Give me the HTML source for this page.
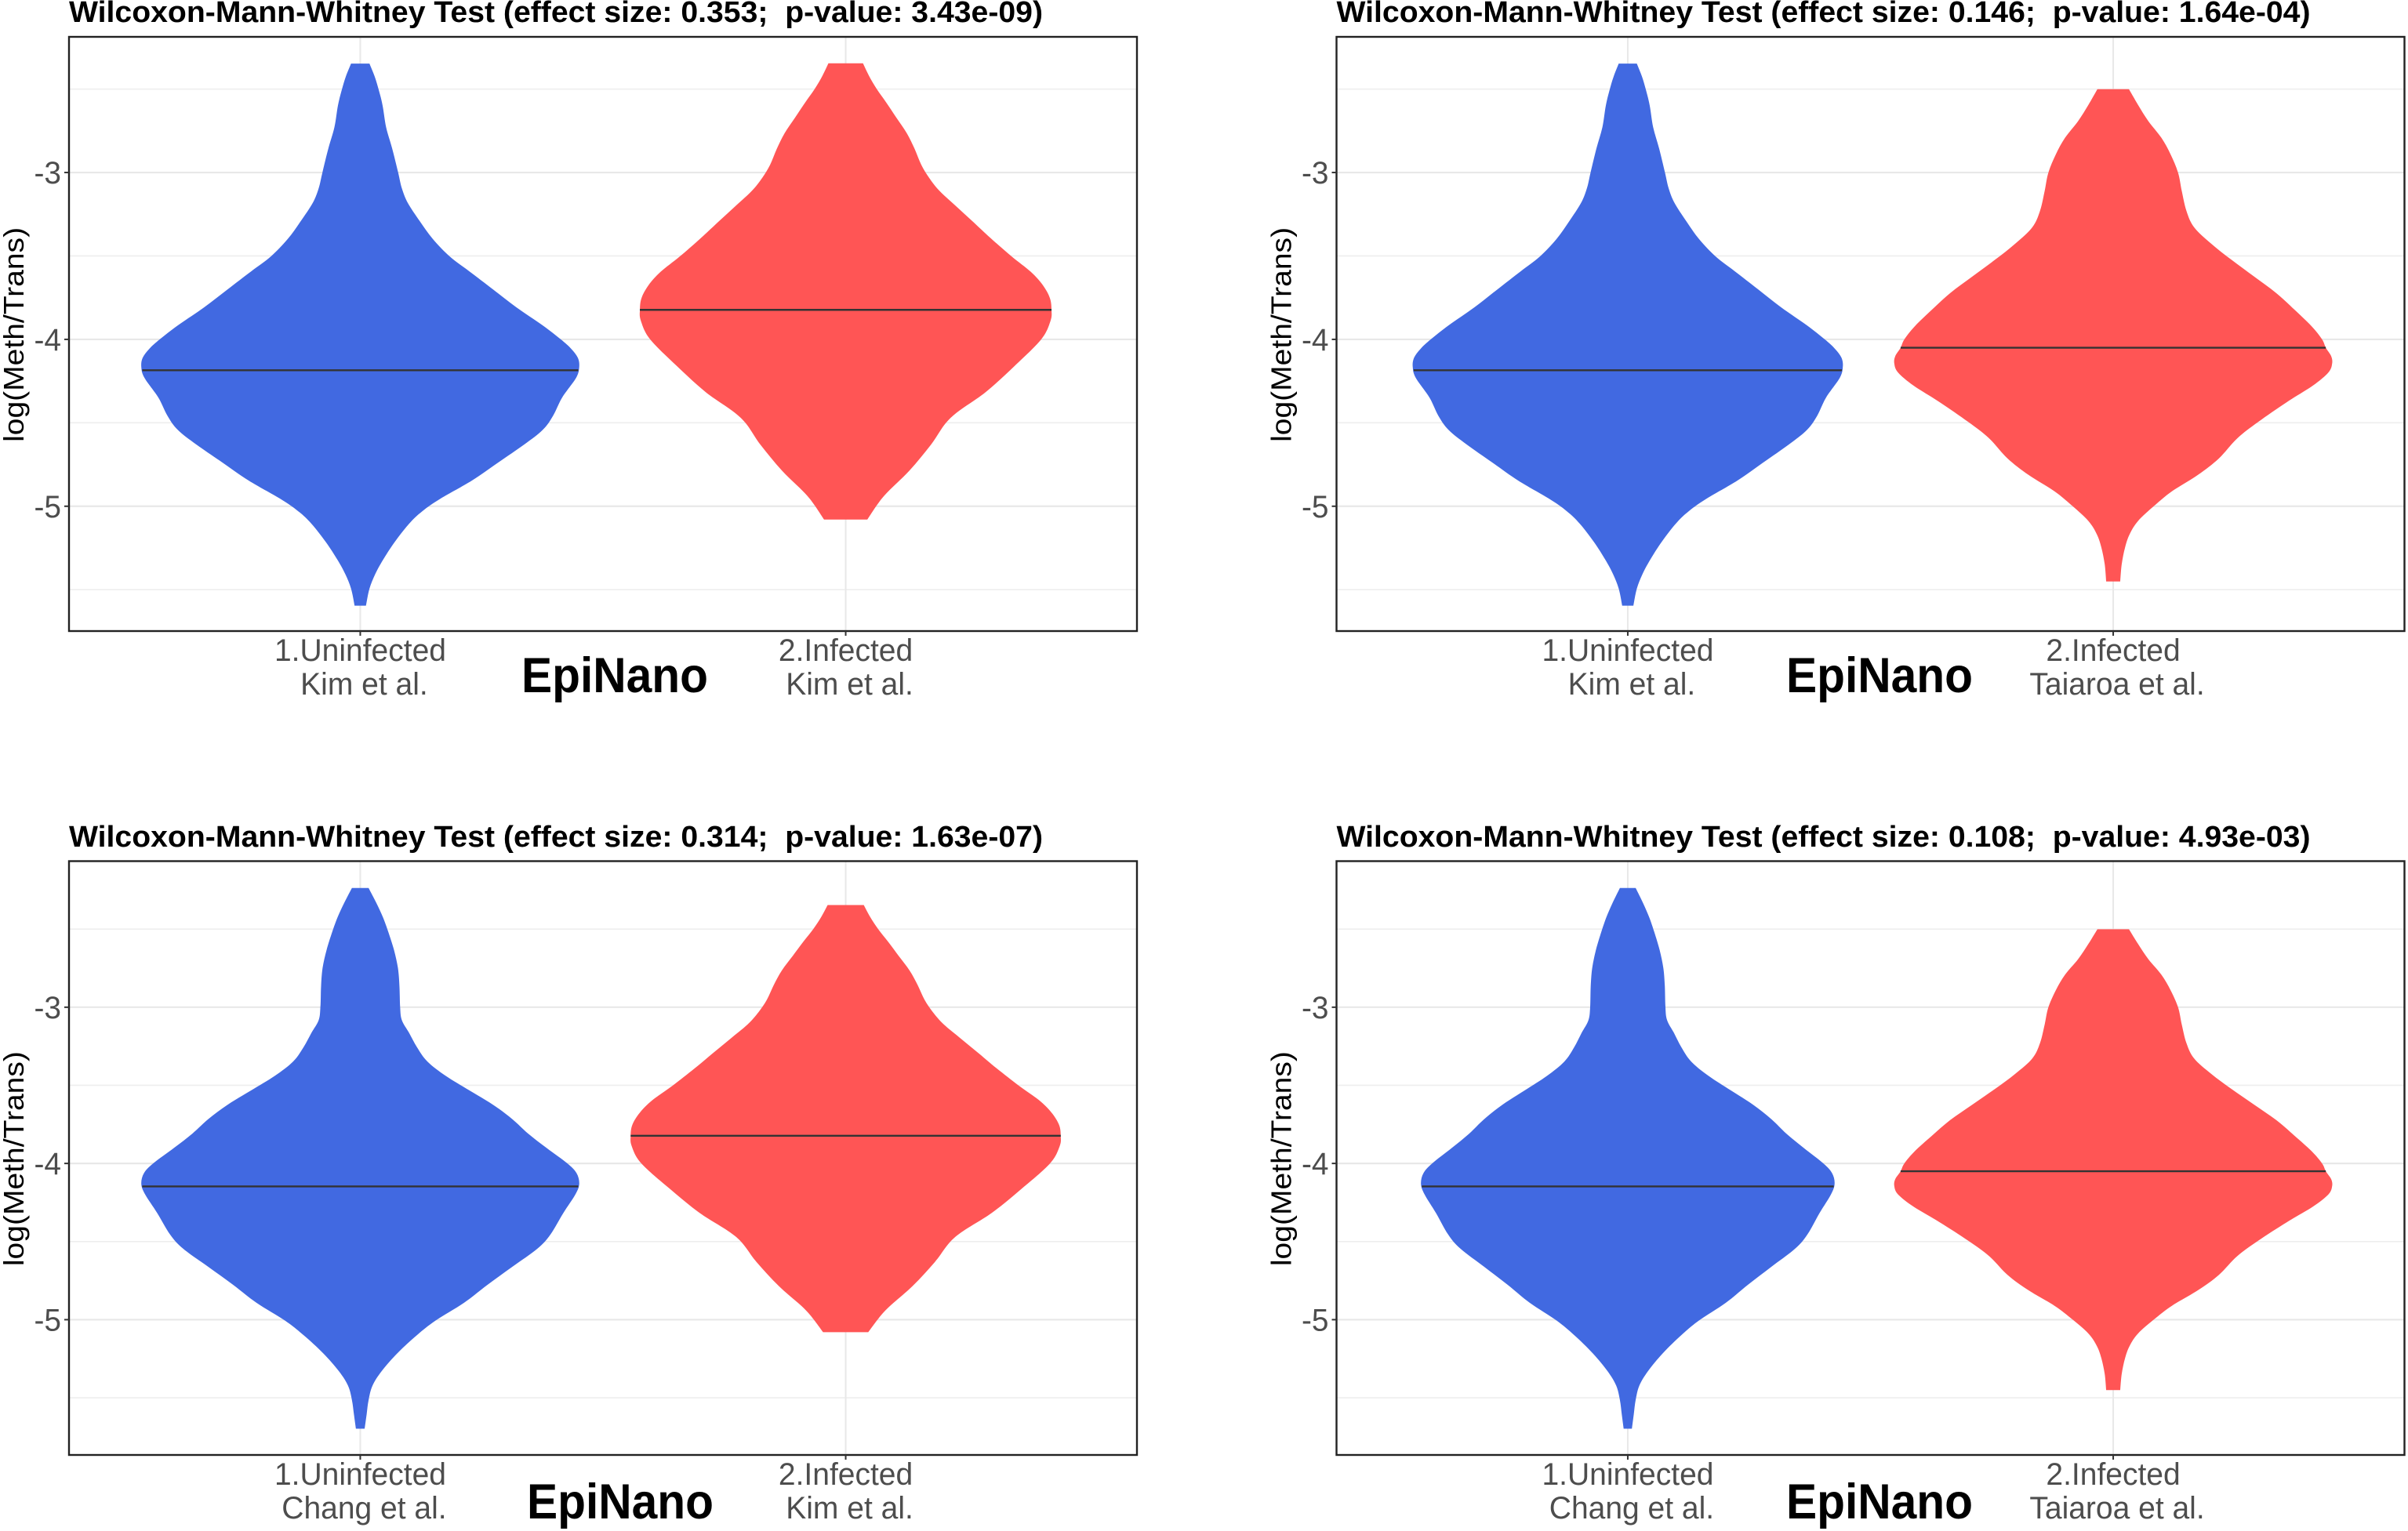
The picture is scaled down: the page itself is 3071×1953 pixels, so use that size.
<!DOCTYPE html>
<html lang="en">
<head>
<meta charset="utf-8">
<title>Wilcoxon-Mann-Whitney violin plots</title>
<style>
html,body{margin:0;padding:0;background:#fff;width:3071px;height:1953px;overflow:hidden}
svg{display:block}
text{font-family:"Liberation Sans",Arial,sans-serif;white-space:pre}
</style>
</head>
<body>
<svg id="figure" xmlns="http://www.w3.org/2000/svg" width="3071" height="1953" viewBox="0 0 3071 1953"></svg>
<script>
// ---- Distributions: log(Meth/Trans) level and relative density at that level ----
const kimUninfectedLevels = [-2.347,-2.425,-2.503,-2.598,-2.728,-2.857,-3,-3.095,-3.182,-3.29,-3.398,-3.504,-3.592,-3.7,-3.808,-3.916,-4,-4.057,-4.111,-4.165,-4.23,-4.349,-4.457,-4.543,-4.63,-4.738,-4.846,-4.954,-5.03,-5.105,-5.213,-5.321,-5.408,-5.494,-5.596];
const kimUninfectedDensity = [.042,.066,.084,.102,.118,.146,.173,.19,.217,.271,.331,.409,.498,.606,.713,.833,.916,.964,.994,1,.986,.922,.881,.833,.749,.63,.51,.367,.283,.223,.158,.104,.068,.042,.026];
const kimUninfectedMedian = -4.185;

const changUninfectedLevels = [-2.237,-2.334,-2.426,-2.518,-2.634,-2.749,-2.864,-3,-3.083,-3.164,-3.256,-3.348,-3.44,-3.532,-3.624,-3.717,-3.809,-3.901,-4,-4.062,-4.131,-4.2,-4.316,-4.454,-4.546,-4.661,-4.776,-4.892,-5.007,-5.099,-5.214,-5.329,-5.422,-5.514,-5.606,-5.698];
const changUninfectedDensity = [.038,.074,.104,.128,.154,.172,.179,.182,.19,.223,.259,.307,.391,.498,.606,.695,.767,.851,.946,.988,1,.982,.928,.869,.809,.695,.582,.474,.343,.259,.17,.098,.056,.038,.029,.02];
const changUninfectedMedian = -4.147;

const kimInfectedLevels = [-2.346,-2.42,-2.5,-2.577,-2.671,-2.765,-2.859,-2.953,-3.031,-3.11,-3.204,-3.298,-3.392,-3.502,-3.596,-3.674,-3.752,-3.823,-3.89,-4,-4.16,-4.316,-4.47,-4.63,-4.786,-4.94,-5.08];
const kimInfectedDensity = [.084,.113,.151,.195,.246,.297,.335,.367,.405,.456,.538,.621,.703,.805,.9,.957,.992,1,.995,.95,.82,.68,.51,.415,.31,.185,.105];
const kimInfectedMedian = -3.823;

const taiaroaInfectedLevels = [-2.501,-2.594,-2.693,-2.792,-2.891,-3,-3.109,-3.228,-3.327,-3.426,-3.525,-3.624,-3.723,-3.822,-3.921,-4,-4.05,-4.099,-4.143,-4.198,-4.277,-4.376,-4.495,-4.594,-4.713,-4.812,-4.911,-5,-5.089,-5.168,-5.248,-5.347,-5.451];
const taiaroaInfectedDensity = [.072,.113,.161,.22,.262,.296,.313,.334,.369,.447,.542,.644,.745,.828,.906,.954,.971,.995,1,.983,.912,.793,.662,.566,.483,.387,.268,.185,.113,.075,.054,.039,.032];
const taiaroaInfectedMedian = -4.05;

// ---- Axis labels ----
const majorTicks = [-3,-4,-5];
const minorTicks = [-2.5,-3.5,-4.5,-5.5];
const tickLabels = ["-3","-4","-5"];
const categories = ["1.Uninfected","2.Infected"];

// ---- Panels ----
const panelStats = [
  "(effect size: 0.353;  p-value: 3.43e-09)",
  "(effect size: 0.146;  p-value: 1.64e-04)",
  "(effect size: 0.314;  p-value: 1.63e-07)",
  "(effect size: 0.108;  p-value: 4.93e-03)"
];
const panelStudies = [["Kim et al.","Kim et al."],["Kim et al.","Taiaroa et al."],["Chang et al.","Kim et al."],["Chang et al.","Taiaroa et al."]];
// Widest half-violin in category-axis units for [uninfected, infected]
const panel1ViolinScale = [.451,.424];
const panel2ViolinScale = [.443,.451];
const panel3ViolinScale = [.451,.443];
const panel4ViolinScale = [.426,.451];

const svg = document.getElementById('figure');
const NS = 'http://www.w3.org/2000/svg';
const BLUE = '#4169E1', RED = '#FF5555';

function shape(tag, attrs, parent, txt){
  const el = document.createElementNS(NS, tag);
  for (const k in attrs) el.setAttribute(k, attrs[k]);
  if (txt !== undefined) el.textContent = txt;
  parent.appendChild(el);
  return el;
}

function condense(el, factor){
  el.setAttribute('textLength', (el.getComputedTextLength()*factor).toFixed(1));
  el.setAttribute('lengthAdjust', 'spacingAndGlyphs');
}

function smoothSide(pts){
  // Catmull-Rom through points, returned as bezier segments (no initial move)
  let d = '';
  for (let i = 0; i < pts.length - 1; i++){
    const p0 = pts[Math.max(i-1,0)], p1 = pts[i], p2 = pts[i+1], p3 = pts[Math.min(i+2,pts.length-1)];
    const c1x = p1[0]+(p2[0]-p0[0])/6, c1y = p1[1]+(p2[1]-p0[1])/6;
    const c2x = p2[0]-(p3[0]-p1[0])/6, c2y = p2[1]-(p3[1]-p1[1])/6;
    d += 'C'+c1x.toFixed(1)+' '+c1y.toFixed(1)+' '+c2x.toFixed(1)+' '+c2y.toFixed(1)+' '+p2[0].toFixed(1)+' '+p2[1].toFixed(1);
  }
  return d;
}

function densityAt(levels, density, v){
  for (let i = 0; i < levels.length - 1; i++){
    if (v <= levels[i] && v >= levels[i+1]){
      const t = (levels[i]-v)/(levels[i]-levels[i+1]);
      return density[i] + t*(density[i+1]-density[i]);
    }
  }
  return 0;
}

function drawViolin(g, xScale, yScale, slot, levels, density, median, maxHalf, color, name){
  const cx = xScale(slot);
  const halfPx = d => (xScale(slot + d*maxHalf) - cx);
  const right = levels.map((v,i)=>[cx+halfPx(density[i]), yScale(v)]);
  const left = levels.map((v,i)=>[cx-halfPx(density[i]), yScale(v)]).reverse();
  const d = 'M'+right[0][0].toFixed(1)+' '+right[0][1].toFixed(1)+smoothSide(right)+
            'L'+left[0][0].toFixed(1)+' '+left[0][1].toFixed(1)+smoothSide(left)+'Z';
  const body = shape('path',{d:d,fill:color},g);
  
  
  const half = halfPx(densityAt(levels,density,median));
  const my = yScale(median);
  const line = shape('line',{x1:cx-half,x2:cx+half,y1:my,y2:my,stroke:'#333333','stroke-width':2.4},g);
  
  
}

function drawPanel(index, uninfected, infected, scale){
  const col = index % 2, row = index >> 1;
  const left = col ? 1704.5 : 88, right = left + 1362;
  const top = row ? 1098.5 : 47, bottom = row ? 1856 : 805;
  const domTop = row ? -2.065 : -2.187, domBottom = row ? -5.866 : -5.748;
  const yScale = v => top + (domTop - v)/(domTop - domBottom)*(bottom - top);
  const xScale = c => left + (c - 0.4)/2.2*(right - left);

  const g = shape('g',{},svg);
  
  

  const title = shape('text',{x:left,y:row?1080:28,'font-size':38,'font-weight':'bold',fill:'#000',textLength:1242,lengthAdjust:'spacingAndGlyphs'},g,'Wilcoxon-Mann-Whitney Test '+panelStats[index]);
  
  

  const bg = shape('rect',{x:left,y:top,width:right-left,height:bottom-top,fill:'#fff'},g);
  
  

  minorTicks.forEach(v=>{
    const l = shape('line',{x1:left,x2:right,y1:yScale(v),y2:yScale(v),stroke:'#eeeeee','stroke-width':1.6},g);
    
    
  });
  majorTicks.forEach(v=>{
    const l = shape('line',{x1:left,x2:right,y1:yScale(v),y2:yScale(v),stroke:'#e8e8e8','stroke-width':2.2},g);
    
    
  });
  categories.forEach((c,i)=>{
    const l = shape('line',{x1:xScale(i+1),x2:xScale(i+1),y1:top,y2:bottom,stroke:'#e8e8e8','stroke-width':2},g);
    
    
  });

  drawViolin(g,xScale,yScale,1,uninfected.levels,uninfected.density,uninfected.median,scale[0],BLUE,'uninfected');
  drawViolin(g,xScale,yScale,2,infected.levels,infected.density,infected.median,scale[1],RED,'infected');

  const border = shape('rect',{x:left,y:top,width:right-left,height:bottom-top,fill:'none',stroke:'#222222','stroke-width':2.4},g);
  
  

  majorTicks.forEach((v,i)=>{
    const t = shape('line',{x1:left-6,x2:left,y1:yScale(v),y2:yScale(v),stroke:'#333333','stroke-width':2},g);
    
    
    const lab = shape('text',{x:left-10,y:yScale(v)+14,'font-size':40,fill:'#4d4d4d','text-anchor':'end'},g,tickLabels[i]);
    
    
    condense(lab,.97);
  });

  const midY = (yScale(-3.5)+yScale(-4.5))/2 - 6;
  const axisX = left - 58;
  const yTitle = shape('text',{x:axisX,y:midY,'font-size':36,fill:'#000','text-anchor':'middle',textLength:274,lengthAdjust:'spacingAndGlyphs',transform:'rotate(-90 '+axisX+' '+midY+')'},g,'log(Meth/Trans)');
  
  

  categories.forEach((c,i)=>{
    const x = xScale(i+1);
    const t = shape('line',{x1:x,x2:x,y1:bottom,y2:bottom+6,stroke:'#333333','stroke-width':2},g);
    
    
    const a = shape('text',{x:x,y:bottom+38,'font-size':40,fill:'#4d4d4d','text-anchor':'middle'},g,c);
    
    
    condense(a,.975);
    const b = shape('text',{x:x+5,y:bottom+81,'font-size':40,fill:'#4d4d4d','text-anchor':'middle'},g,panelStudies[index][i]);
    
    
    condense(b,.975);
  });

  const markX = left + (col ? 573.5 : (row ? 584 : 577));
  const mark = shape('text',{x:markX,y:row?1937:883,'font-size':63,'font-weight':'bold',fill:'#000',textLength:238,lengthAdjust:'spacingAndGlyphs'},g,'EpiNano');
  
  
}

const kimU = {levels:kimUninfectedLevels,density:kimUninfectedDensity,median:kimUninfectedMedian};
const changU = {levels:changUninfectedLevels,density:changUninfectedDensity,median:changUninfectedMedian};
const kimI = {levels:kimInfectedLevels,density:kimInfectedDensity,median:kimInfectedMedian};
const taiaroaI = {levels:taiaroaInfectedLevels,density:taiaroaInfectedDensity,median:taiaroaInfectedMedian};

drawPanel(0,kimU,kimI,panel1ViolinScale);
drawPanel(1,kimU,taiaroaI,panel2ViolinScale);
drawPanel(2,changU,kimI,panel3ViolinScale);
drawPanel(3,changU,taiaroaI,panel4ViolinScale);
</script>
</body>
</html>
